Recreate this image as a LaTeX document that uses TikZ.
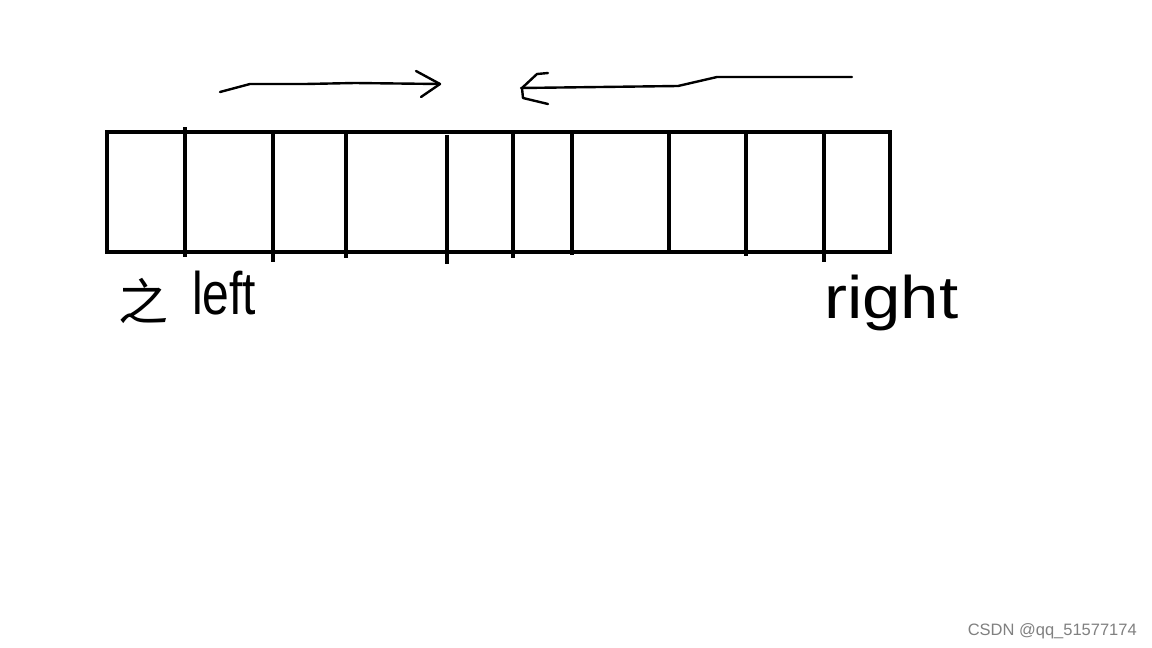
\documentclass[tikz,border=0pt]{standalone}
\usepackage{fontspec}
\setmainfont{Liberation Sans}
\newfontfamily\cjk{Noto Sans CJK SC}
\begin{document}
\begin{tikzpicture}[x=1pt,y=-1pt,
  box/.style={line width=4pt},
  divider/.style={line width=3.2pt},
  stroke/.style={line width=2.4pt,line cap=round,line join=round},
  hand/.style={inner sep=0pt,anchor=base west},
  watermark/.style={font=\fontsize{16.5}{16.5}\selectfont,text=black!50,inner sep=0pt}]
\useasboundingbox[fill=white] (0,0) rectangle (1152,648);
% array box
\draw[box] (107,132) rectangle (890,252);
\foreach \x/\t/\b in {185/127/257, 273/134/262, 346/134/258, 447/135/264, 513/134/258, 572/134/255, 669/134/252, 746/134/256, 824/134/262}
  \draw[divider] (\x,\t) -- (\x,\b);
% right-pointing arrow
\coordinate (a1) at (220,92);
\coordinate (a2) at (440,84);
\draw[stroke] (a1) -- (250,84) -- (305,84) -- (355,83) -- (a2);
\draw[stroke] (416,71) -- (a2) -- (421,97);
% left-pointing arrow
\coordinate (b1) at (852,77);
\coordinate (b2) at (521,88);
\draw[stroke] (b1) -- (717,77) -- (678,86) -- (b2);
\draw[stroke] (548,73) -- (537,74) -- (522,88) -- (523,98) -- (548,104);
% labels
\node[hand,font=\cjk\fontsize{50}{50}\selectfont] (zhi) at (118,320) {之};
\node[hand,font=\fontsize{60}{60}\selectfont,xscale=0.8] (left) at (192,314) {left};
\node[hand,font=\fontsize{60}{60}\selectfont,xscale=1.15] (right) at (824,318) {right};
\node[watermark,anchor=east] (wm) at (1137,631) {CSDN @qq\_51577174};
\end{tikzpicture}
\end{document}
